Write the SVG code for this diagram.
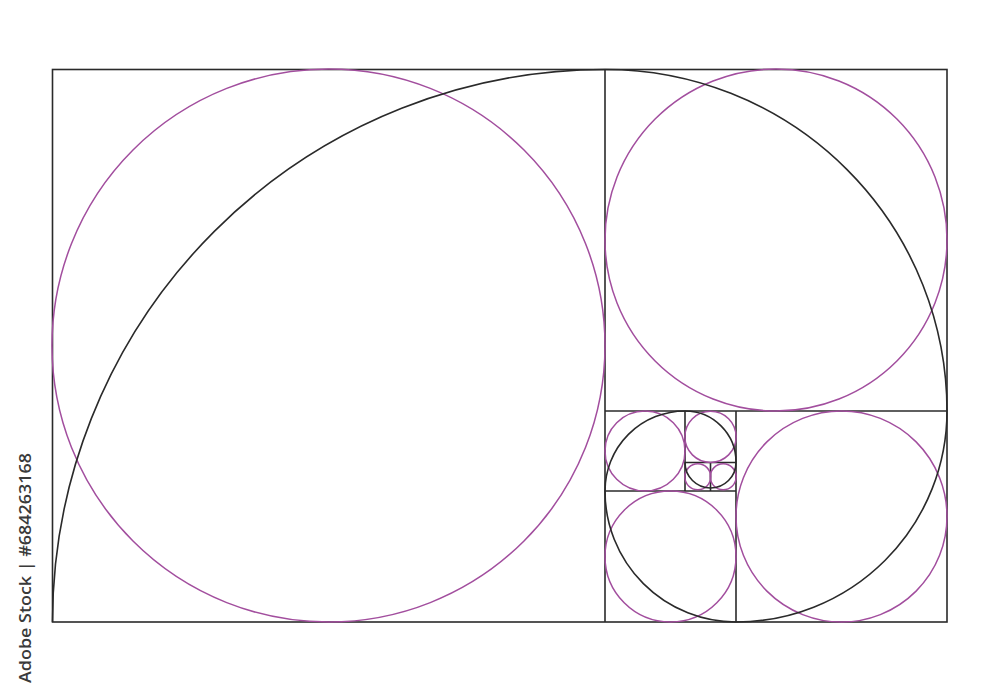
<svg xmlns="http://www.w3.org/2000/svg" width="1000" height="692" viewBox="0 0 1000 692">
<style>
.ln{fill:none;stroke:#2a2a2a;stroke-width:1.6}
.c{fill:none;stroke:#a24e9e;stroke-width:1.5}
.id{font-family:"Open Sans","Noto Sans",sans-serif;font-size:17px;font-weight:600;fill:#3a3a3a}
</style>
<rect width="1000" height="692" fill="#ffffff"/>
<g id="grid">
<rect class="ln" x="52.5" y="69.5" width="894.5" height="552.5"/>
<line class="ln" x1="605" y1="69.5" x2="605" y2="622"/>
<line class="ln" x1="605" y1="411" x2="947" y2="411"/>
<line class="ln" x1="736" y1="411" x2="736" y2="622"/>
<line class="ln" x1="605" y1="491" x2="736" y2="491"/>
<line class="ln" x1="685" y1="411" x2="685" y2="491"/>
<line class="ln" x1="685" y1="462.5" x2="736" y2="462.5"/>
<line class="ln" x1="710.5" y1="462.5" x2="710.5" y2="491"/>
</g>
<g id="circles">
<circle class="c" cx="328.5" cy="345.5" r="276.5"/>
<circle class="c" cx="776" cy="240" r="171"/>
<circle class="c" cx="841.5" cy="516.5" r="105.5"/>
<circle class="c" cx="670.5" cy="556.5" r="65.5"/>
<circle class="c" cx="645" cy="451" r="40"/>
<circle class="c" cx="710.5" cy="436.8" r="25.6"/>
<circle class="c" cx="697.8" cy="476.8" r="13"/>
<circle class="c" cx="723.2" cy="476.8" r="13"/>
</g>
<g id="spiral">
<path class="ln" d="M52.5,622 A552.5,552.5 0 0 1 605,69.5 A341.5,341.5 0 0 1 947,411 A211,211 0 0 1 736,622 A131,131 0 0 1 605,491 A80,80 0 0 1 685,411 A51,51 0 0 1 736,462.5 A25.5,25.5 0 0 1 685,462.5"/>
</g>
<text class="id" transform="translate(31,683) rotate(-90)" x="0" y="0" textLength="230" lengthAdjust="spacingAndGlyphs">Adobe Stock | #684263168</text>
</svg>
